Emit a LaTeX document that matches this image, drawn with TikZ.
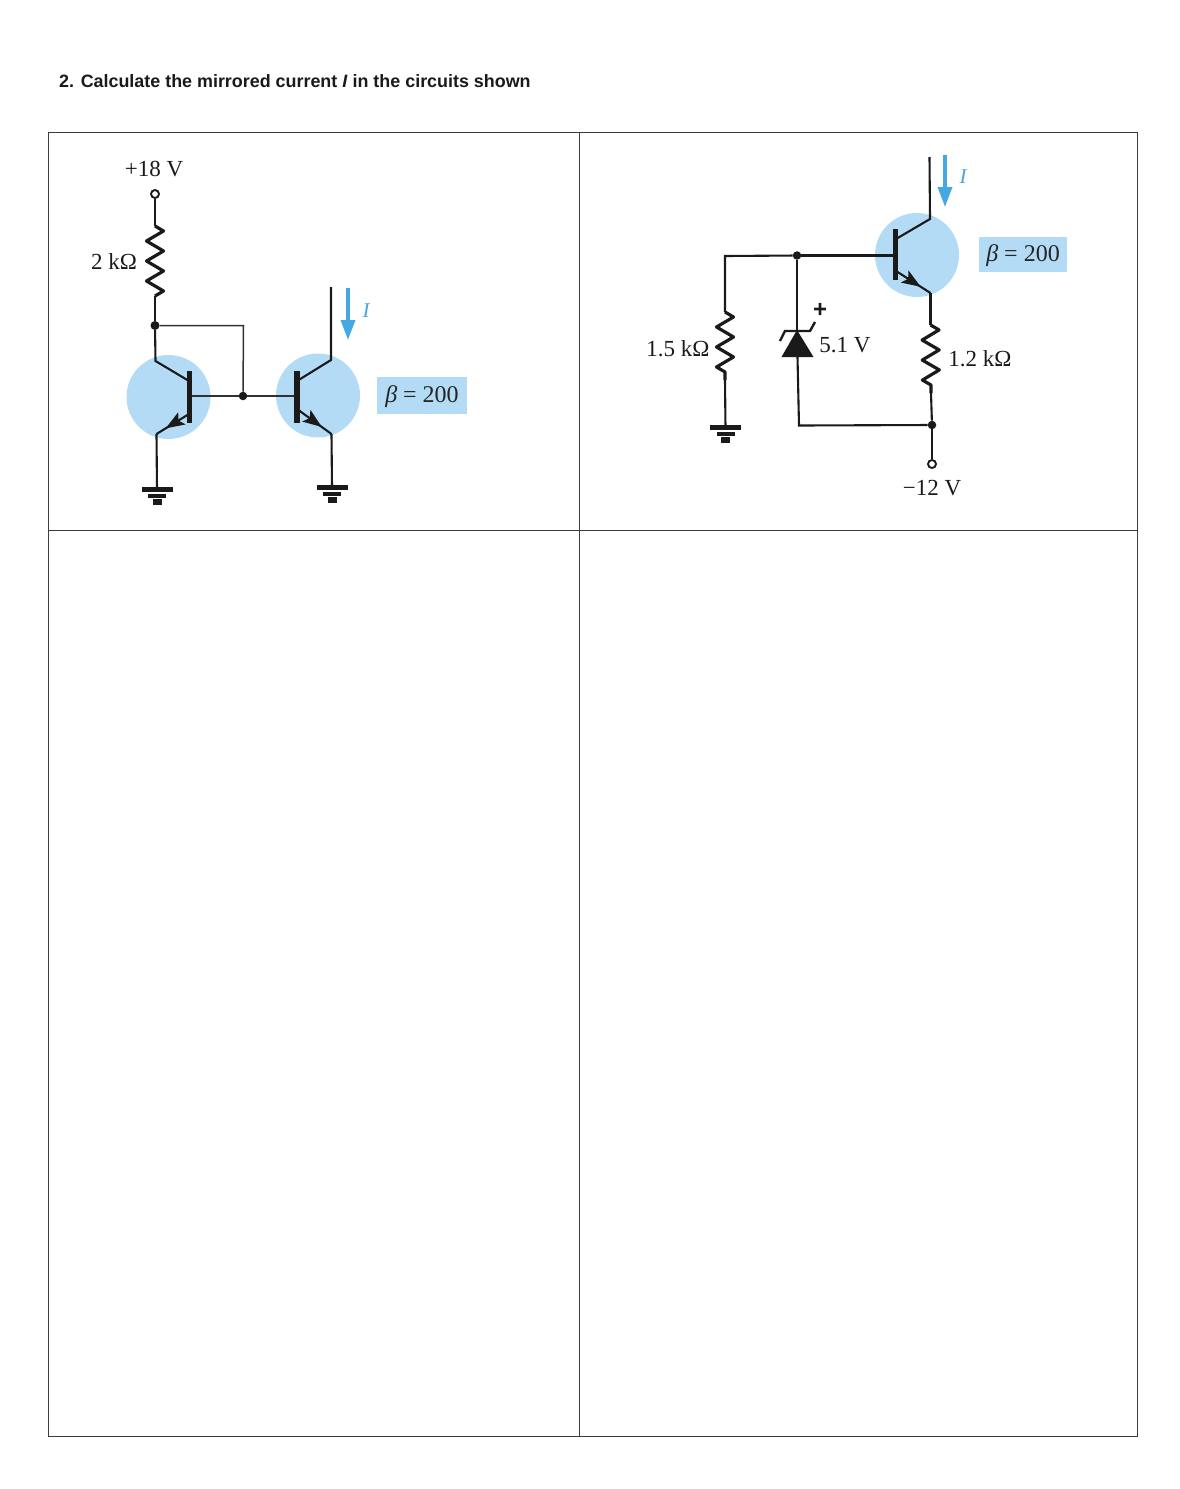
\documentclass[tikz,border=0pt]{standalone}
\usepackage{fontspec}
\setmainfont{Liberation Serif}
\newfontfamily\titlefont{Liberation Sans}
\usetikzlibrary{arrows.meta,decorations.pathmorphing,decorations.markings}
\definecolor{halo}{HTML}{B3DBF5}
\definecolor{ibar}{HTML}{45A8E3}
\definecolor{ink}{HTML}{1A1A1A}
\tikzset{
  frameline/.style={draw=ink!85,line width=0.9pt},
  wire/.style={draw=ink,line width=2.1pt},
  thinwire/.style={draw=ink!90,line width=1.5pt},
  res/.style={draw=ink,line width=3.2pt,line join=round,decorate,decoration={zigzag,segment length=20pt,amplitude=8.5pt}},
  bjtbar/.style={draw=ink,line width=5.5pt},
  halodisc/.style={circle,fill=halo,minimum size=84pt,inner sep=0pt},
  jct/.style={circle,fill=ink,minimum size=8.5pt,inner sep=0pt},
  term/.style={circle,draw=ink,fill=white,line width=1.9pt,minimum size=8pt,inner sep=0pt},
  emit/.style={wire,postaction={decorate},decoration={markings,mark=at position 0.72 with {\arrow{Stealth[length=19pt,width=14pt,inset=4pt]}}}},
  ival/.style={draw=ibar,line width=3.5pt,-{Triangle[length=20pt,width=14pt]}},
  val/.style={font=\fontsize{23}{24}\selectfont,text=ink,inner sep=0pt},
  ilab/.style={font=\fontsize{21}{22}\selectfont\itshape,text=ibar,inner sep=0pt},
  betabox/.style={fill=halo,text=ink!95,inner sep=0pt,font=\fontsize{24}{25}\selectfont},
  gnd/.pic={
    \fill[ink] (-15.5,-3) rectangle (15.5,2);
    \fill[ink] (-9,4) rectangle (9,8);
    \fill[ink] (-4.5,9) rectangle (4.5,15);
  }
}
\begin{document}
\begin{tikzpicture}[x=1pt,y=-1pt]
\useasboundingbox (0,0) rectangle (1179,1489);
\fill[white] (0,0) rectangle (1179,1489);
\node[anchor=base west,inner sep=0pt,font=\fontsize{17.9}{20}\selectfont\titlefont\bfseries,text=ink] (title) at (59,87) {2. Calculate the mirrored current \textit{I} in the circuits shown};
% frame
\draw[frameline] (48.5,132.5) rectangle (1137.5,1436.5);
\draw[frameline] (579.5,132.5) -- (579.5,1436.5);
\draw[frameline] (48.5,530.5) -- (1137.5,530.5);

% ---- left circuit ----
\node[halodisc] (discA) at (168.5,397) {};
\node[halodisc] (discB) at (318,395.5) {};
\node[term] (vcc) at (155,194) {};
\coordinate (r1t) at (155,226);
\coordinate (r1b) at (155,296);
\node[jct,minimum size=9pt] (n1) at (155,325.5) {};
\coordinate (c1) at (155.5,361);
\coordinate (b1c) at (189,381);
\coordinate (b1e) at (189,414);
\coordinate (e1) at (156.5,434);
\coordinate (g1) at (157,490);
\coordinate (barAt) at (189.5,371);
\coordinate (barAb) at (189.5,423);
\coordinate (barBt) at (297,371);
\coordinate (barBb) at (297,423);
\coordinate (b2c) at (297,381);
\coordinate (b2e) at (297,409);
\coordinate (c2) at (331,360);
\coordinate (top2) at (331,287);
\coordinate (e2) at (331.5,434);
\coordinate (g2) at (332,488);
\coordinate (corner1) at (243.5,325.5);
\node[jct] (n2) at (243,396) {};

\draw[wire] (vcc) -- (r1t);
\draw[res] (r1t) -- (r1b);
\draw[wire] (r1b) -- (n1);
\draw[wire] (n1) -- (c1) -- (b1c);
\draw[thinwire] (n1) -- (corner1) -- (n2);
\draw[thinwire] (barAt |- n2) -- (n2) -- (barBt |- n2);
\draw[bjtbar] (barAt) -- (barAb);
\draw[bjtbar] (barBt) -- (barBb);
\draw[emit] (b1e) -- (e1);
\draw[wire] (e1) -- (g1);
\draw[wire] (top2) -- (c2) -- (b2c);
\draw[emit] (b2e) -- (e2);
\draw[wire] (e2) -- (g2);
\pic at (g1) {gnd};
\pic at (g2) {gnd};

\coordinate (iAs) at (348,288);
\coordinate (iAe) at (348,340);
\draw[ival] (iAs) -- (iAe);
\node[ilab] (iA) at (366,311) {I};
\node[val] (v18) at (154,169.5) {+18 V};
\node[val] (r2k) at (114,261.5) {2 kΩ};
\node[betabox,minimum width=90pt,minimum height=37pt,text depth=2pt] (betaA) at (422,395.5) {\textit{β} = 200};

% ---- right circuit ----
\node[halodisc] (discC) at (917,255) {};
\coordinate (top3) at (929.5,157);
\coordinate (c3) at (930,219);
\coordinate (b3c) at (896,239);
\coordinate (barCt) at (895.5,229);
\coordinate (barCb) at (895.5,280);
\coordinate (b3e) at (896,271);
\coordinate (e3) at (930.5,293);
\coordinate (r3t) at (930.5,325);
\coordinate (r3b) at (931,393);
\node[jct] (n4) at (932,425) {};
\node[term] (vee) at (932,464) {};
\node[jct] (n3) at (797,255.5) {};
\coordinate (corner2) at (725,256);
\coordinate (r4t) at (725,312);
\coordinate (r4b) at (725,380);
\coordinate (g3) at (725.5,428);
\coordinate (zt) at (797,330);
\coordinate (zb) at (797.5,357);
\coordinate (corner3) at (799,425.5);

\draw[wire] (top3) -- (c3) -- (b3c);
\draw[bjtbar] (barCt) -- (barCb);
\draw[emit] (b3e) -- (e3);
\draw[wire] (e3) -- (r3t);
\draw[res] (r3t) -- (r3b);
\draw[wire] (r3b) -- (n4);
\draw[wire] (n4) -- (vee);
\draw[wire] (n3) -- (barCt |- n3);
\draw[wire] (n3) -- (corner2) -- (r4t);
\draw[res] (r4t) -- (r4b);
\draw[wire] (r4b) -- (g3);
\pic at (g3) {gnd};
\draw[wire] (n3) -- (zt);
\fill[ink] (zt) -- (813.5,357) -- (781.5,357) -- cycle;
\draw[draw=ink,line width=2.4pt] (780,341) -- (785,331) -- (810,331) -- (815,322);
\draw[wire] (zb) -- (corner3) -- (n4);

\coordinate (iBs) at (945,155);
\coordinate (iBe) at (945,207);
\draw[ival] (iBs) -- (iBe);
\node[ilab] (iB) at (963,177) {I};
\node[betabox,minimum width=88pt,minimum height=35pt,text depth=2pt] (betaB) at (1023,254.5) {\textit{β} = 200};
\node[inner sep=0pt,font=\fontsize{24}{26}\selectfont\titlefont\bfseries,text=ink] (plus) at (820,310) {+};
\node[val] (vz) at (845,345) {5.1 V};
\node[val] (r15) at (678,348.5) {1.5 kΩ};
\node[val] (r12) at (980,359) {1.2 kΩ};
\node[val] (v12) at (932,488) {−12 V};
\end{tikzpicture}
\end{document}
